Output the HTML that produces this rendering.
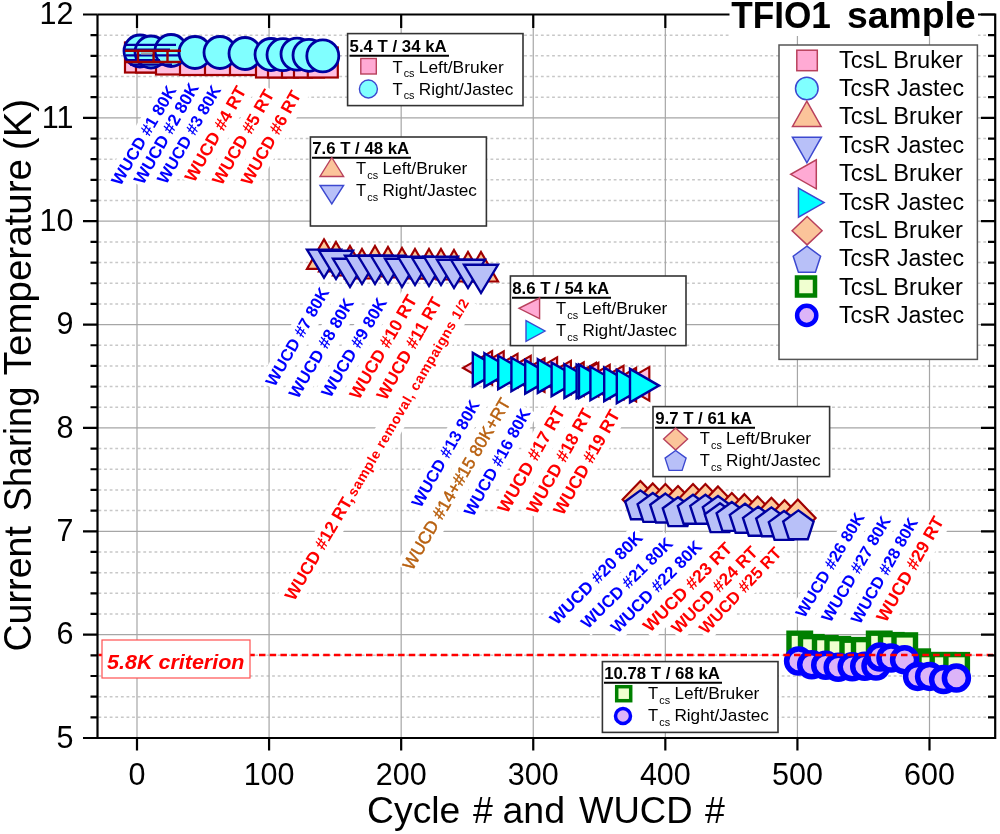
<!DOCTYPE html>
<html><head><meta charset="utf-8"><title>TFIO1 sample</title>
<style>html,body{margin:0;padding:0;background:#fff;overflow:hidden;} svg{display:block;}</style>
</head><body>
<svg width="1000" height="834" viewBox="0 0 1000 834"><g id="grid">
<line x1="98.5" y1="717.33" x2="994.2" y2="717.33" stroke="#c8c8c8" stroke-width="1.5" stroke-dasharray="2.8 2.8"/>
<line x1="98.5" y1="696.66" x2="994.2" y2="696.66" stroke="#c8c8c8" stroke-width="1.5" stroke-dasharray="2.8 2.8"/>
<line x1="98.5" y1="675.99" x2="994.2" y2="675.99" stroke="#c8c8c8" stroke-width="1.5" stroke-dasharray="2.8 2.8"/>
<line x1="98.5" y1="655.31" x2="994.2" y2="655.31" stroke="#c8c8c8" stroke-width="1.5" stroke-dasharray="2.8 2.8"/>
<line x1="98.5" y1="613.97" x2="994.2" y2="613.97" stroke="#c8c8c8" stroke-width="1.5" stroke-dasharray="2.8 2.8"/>
<line x1="98.5" y1="593.30" x2="994.2" y2="593.30" stroke="#c8c8c8" stroke-width="1.5" stroke-dasharray="2.8 2.8"/>
<line x1="98.5" y1="572.63" x2="994.2" y2="572.63" stroke="#c8c8c8" stroke-width="1.5" stroke-dasharray="2.8 2.8"/>
<line x1="98.5" y1="551.96" x2="994.2" y2="551.96" stroke="#c8c8c8" stroke-width="1.5" stroke-dasharray="2.8 2.8"/>
<line x1="98.5" y1="510.61" x2="994.2" y2="510.61" stroke="#c8c8c8" stroke-width="1.5" stroke-dasharray="2.8 2.8"/>
<line x1="98.5" y1="489.94" x2="994.2" y2="489.94" stroke="#c8c8c8" stroke-width="1.5" stroke-dasharray="2.8 2.8"/>
<line x1="98.5" y1="469.27" x2="994.2" y2="469.27" stroke="#c8c8c8" stroke-width="1.5" stroke-dasharray="2.8 2.8"/>
<line x1="98.5" y1="448.60" x2="994.2" y2="448.60" stroke="#c8c8c8" stroke-width="1.5" stroke-dasharray="2.8 2.8"/>
<line x1="98.5" y1="407.26" x2="994.2" y2="407.26" stroke="#c8c8c8" stroke-width="1.5" stroke-dasharray="2.8 2.8"/>
<line x1="98.5" y1="386.59" x2="994.2" y2="386.59" stroke="#c8c8c8" stroke-width="1.5" stroke-dasharray="2.8 2.8"/>
<line x1="98.5" y1="365.91" x2="994.2" y2="365.91" stroke="#c8c8c8" stroke-width="1.5" stroke-dasharray="2.8 2.8"/>
<line x1="98.5" y1="345.24" x2="994.2" y2="345.24" stroke="#c8c8c8" stroke-width="1.5" stroke-dasharray="2.8 2.8"/>
<line x1="98.5" y1="303.90" x2="994.2" y2="303.90" stroke="#c8c8c8" stroke-width="1.5" stroke-dasharray="2.8 2.8"/>
<line x1="98.5" y1="283.23" x2="994.2" y2="283.23" stroke="#c8c8c8" stroke-width="1.5" stroke-dasharray="2.8 2.8"/>
<line x1="98.5" y1="262.56" x2="994.2" y2="262.56" stroke="#c8c8c8" stroke-width="1.5" stroke-dasharray="2.8 2.8"/>
<line x1="98.5" y1="241.89" x2="994.2" y2="241.89" stroke="#c8c8c8" stroke-width="1.5" stroke-dasharray="2.8 2.8"/>
<line x1="98.5" y1="200.54" x2="994.2" y2="200.54" stroke="#c8c8c8" stroke-width="1.5" stroke-dasharray="2.8 2.8"/>
<line x1="98.5" y1="179.87" x2="994.2" y2="179.87" stroke="#c8c8c8" stroke-width="1.5" stroke-dasharray="2.8 2.8"/>
<line x1="98.5" y1="159.20" x2="994.2" y2="159.20" stroke="#c8c8c8" stroke-width="1.5" stroke-dasharray="2.8 2.8"/>
<line x1="98.5" y1="138.53" x2="994.2" y2="138.53" stroke="#c8c8c8" stroke-width="1.5" stroke-dasharray="2.8 2.8"/>
<line x1="98.5" y1="97.19" x2="994.2" y2="97.19" stroke="#c8c8c8" stroke-width="1.5" stroke-dasharray="2.8 2.8"/>
<line x1="98.5" y1="76.51" x2="994.2" y2="76.51" stroke="#c8c8c8" stroke-width="1.5" stroke-dasharray="2.8 2.8"/>
<line x1="98.5" y1="55.84" x2="994.2" y2="55.84" stroke="#c8c8c8" stroke-width="1.5" stroke-dasharray="2.8 2.8"/>
<line x1="98.5" y1="35.17" x2="994.2" y2="35.17" stroke="#c8c8c8" stroke-width="1.5" stroke-dasharray="2.8 2.8"/>
<line x1="97.5" y1="634.64" x2="995.2" y2="634.64" stroke="#a6a6a6" stroke-width="1.2"/>
<line x1="97.5" y1="531.29" x2="995.2" y2="531.29" stroke="#a6a6a6" stroke-width="1.2"/>
<line x1="97.5" y1="427.93" x2="995.2" y2="427.93" stroke="#a6a6a6" stroke-width="1.2"/>
<line x1="97.5" y1="324.57" x2="995.2" y2="324.57" stroke="#a6a6a6" stroke-width="1.2"/>
<line x1="97.5" y1="221.21" x2="995.2" y2="221.21" stroke="#a6a6a6" stroke-width="1.2"/>
<line x1="97.5" y1="117.86" x2="995.2" y2="117.86" stroke="#a6a6a6" stroke-width="1.2"/>
<line x1="137.00" y1="14.5" x2="137.00" y2="738.0" stroke="#a6a6a6" stroke-width="1.2"/>
<line x1="269.08" y1="14.5" x2="269.08" y2="738.0" stroke="#a6a6a6" stroke-width="1.2"/>
<line x1="401.17" y1="14.5" x2="401.17" y2="738.0" stroke="#a6a6a6" stroke-width="1.2"/>
<line x1="533.25" y1="14.5" x2="533.25" y2="738.0" stroke="#a6a6a6" stroke-width="1.2"/>
<line x1="665.33" y1="14.5" x2="665.33" y2="738.0" stroke="#a6a6a6" stroke-width="1.2"/>
<line x1="797.42" y1="14.5" x2="797.42" y2="738.0" stroke="#a6a6a6" stroke-width="1.2"/>
<line x1="929.50" y1="14.5" x2="929.50" y2="738.0" stroke="#a6a6a6" stroke-width="1.2"/>
</g>
<g id="labels">
<g transform="translate(293.1,591.5) rotate(-59.63085525201942)"><rect x="-10.3" y="-11.7" width="350.8" height="24.7" fill="#fff"/><text x="-8.3" y="6.1" font-family="'Liberation Sans', Arial, sans-serif" font-size="17.39" font-weight="bold" fill="#ff0000">WUCD #12 RT,</text><text x="112.5" y="6.1" font-family="'Liberation Sans', Arial, sans-serif" font-size="14" font-weight="bold" fill="#ff0000" textLength="226" lengthAdjust="spacing"> sample removal, campaigns 1/2</text></g>
<g transform="translate(411.0,561.0) rotate(-59.6)"><rect x="-10.2" y="-11.6" width="199.7" height="24.6" fill="#fff"/><text x="-8.2" y="6.1" font-family="'Liberation Sans', Arial, sans-serif" font-size="17.35" font-weight="normal" fill="#b8600f" stroke="#b8600f" stroke-width="0.45">WUCD #14+#15 80K+RT</text></g>
<g transform="translate(119.5,176.5) rotate(-59.71830386109913)"><rect x="-10.0" y="-11.3" width="115.5" height="24.0" fill="#fff"/><text x="-8.0" y="5.9" font-family="'Liberation Sans', Arial, sans-serif" font-size="16.87" font-weight="bold" fill="#0000ff">WUCD #1 80K</text></g>
<g transform="translate(142.0,175.5) rotate(-60.24083760177997)"><rect x="-10.1" y="-11.5" width="117.3" height="24.3" fill="#fff"/><text x="-8.1" y="6.0" font-family="'Liberation Sans', Arial, sans-serif" font-size="17.14" font-weight="bold" fill="#0000ff">WUCD #2 80K</text></g>
<g transform="translate(165.2,175.3) rotate(-59.86685251825079)"><rect x="-9.9" y="-11.2" width="114.5" height="23.7" fill="#fff"/><text x="-7.9" y="5.8" font-family="'Liberation Sans', Arial, sans-serif" font-size="16.71" font-weight="bold" fill="#0000ff">WUCD #3 80K</text></g>
<g transform="translate(193.0,173.0) rotate(-60.37730064129688)"><rect x="-10.3" y="-11.7" width="110.6" height="24.8" fill="#fff"/><text x="-8.3" y="6.1" font-family="'Liberation Sans', Arial, sans-serif" font-size="17.44" font-weight="bold" fill="#ff0000">WUCD #4 RT</text></g>
<g transform="translate(220.6,176.0) rotate(-60.07172392949572)"><rect x="-10.3" y="-11.7" width="110.5" height="24.8" fill="#fff"/><text x="-8.3" y="6.1" font-family="'Liberation Sans', Arial, sans-serif" font-size="17.43" font-weight="bold" fill="#ff0000">WUCD #5 RT</text></g>
<g transform="translate(249.2,176.4) rotate(-60.86033330030258)"><rect x="-10.2" y="-11.5" width="108.9" height="24.4" fill="#fff"/><text x="-8.2" y="6.0" font-family="'Liberation Sans', Arial, sans-serif" font-size="17.17" font-weight="bold" fill="#ff0000">WUCD #6 RT</text></g>
<g transform="translate(273.7,377.7) rotate(-60.15238560193508)"><rect x="-9.9" y="-11.2" width="114.3" height="23.7" fill="#fff"/><text x="-7.9" y="5.8" font-family="'Liberation Sans', Arial, sans-serif" font-size="16.68" font-weight="bold" fill="#0000ff">WUCD #7 80K</text></g>
<g transform="translate(297.0,389.5) rotate(-59.75615254831229)"><rect x="-10.0" y="-11.3" width="115.9" height="24.0" fill="#fff"/><text x="-8.0" y="5.9" font-family="'Liberation Sans', Arial, sans-serif" font-size="16.93" font-weight="bold" fill="#0000ff">WUCD #8 80K</text></g>
<g transform="translate(329.5,388.6) rotate(-59.42532601236079)"><rect x="-10.1" y="-11.4" width="116.1" height="24.1" fill="#fff"/><text x="-8.1" y="5.9" font-family="'Liberation Sans', Arial, sans-serif" font-size="16.96" font-weight="bold" fill="#0000ff">WUCD #9 80K</text></g>
<g transform="translate(357.8,390.3) rotate(-59.83540211448305)"><rect x="-10.3" y="-11.7" width="120.9" height="24.9" fill="#fff"/><text x="-8.3" y="6.1" font-family="'Liberation Sans', Arial, sans-serif" font-size="17.53" font-weight="bold" fill="#ff0000">WUCD #10 RT</text></g>
<g transform="translate(384.7,391.0) rotate(-60.47098656411123)"><rect x="-10.2" y="-11.6" width="119.5" height="24.6" fill="#fff"/><text x="-8.2" y="6.1" font-family="'Liberation Sans', Arial, sans-serif" font-size="17.32" font-weight="bold" fill="#ff0000">WUCD #11 RT</text></g>
<g transform="translate(419.5,498.5) rotate(-60.161716257479846)"><rect x="-10.0" y="-11.2" width="124.0" height="23.8" fill="#fff"/><text x="-8.0" y="5.9" font-family="'Liberation Sans', Arial, sans-serif" font-size="16.74" font-weight="bold" fill="#0000ff">WUCD #13 80K</text></g>
<g transform="translate(471.9,507.5) rotate(-61.09222715796032)"><rect x="-9.9" y="-11.2" width="123.6" height="23.7" fill="#fff"/><text x="-7.9" y="5.8" font-family="'Liberation Sans', Arial, sans-serif" font-size="16.68" font-weight="bold" fill="#0000ff">WUCD #16 80K</text></g>
<g transform="translate(506.0,503.8) rotate(-60.47232710977229)"><rect x="-10.4" y="-11.9" width="122.5" height="25.2" fill="#fff"/><text x="-8.4" y="6.2" font-family="'Liberation Sans', Arial, sans-serif" font-size="17.77" font-weight="bold" fill="#ff0000">WUCD #17 RT</text></g>
<g transform="translate(534.9,505.0) rotate(-60.91318917046842)"><rect x="-10.4" y="-11.8" width="121.3" height="25.0" fill="#fff"/><text x="-8.4" y="6.2" font-family="'Liberation Sans', Arial, sans-serif" font-size="17.6" font-weight="bold" fill="#ff0000">WUCD #18 RT</text></g>
<g transform="translate(561.8,505.9) rotate(-60.63923406081225)"><rect x="-10.4" y="-11.8" width="121.2" height="25.0" fill="#fff"/><text x="-8.4" y="6.2" font-family="'Liberation Sans', Arial, sans-serif" font-size="17.58" font-weight="bold" fill="#ff0000">WUCD #19 RT</text></g>
<g transform="translate(558.3,615.7) rotate(-45.0)"><rect x="-10.2" y="-11.5" width="127.4" height="24.4" fill="#fff"/><text x="-8.2" y="6.0" font-family="'Liberation Sans', Arial, sans-serif" font-size="17.21" font-weight="bold" fill="#0000ff">WUCD #20 80K</text></g>
<g transform="translate(589.3,619.6) rotate(-44.47159540734653)"><rect x="-10.0" y="-11.3" width="124.9" height="24.0" fill="#fff"/><text x="-8.0" y="5.9" font-family="'Liberation Sans', Arial, sans-serif" font-size="16.87" font-weight="bold" fill="#0000ff">WUCD #21 80K</text></g>
<g transform="translate(619.2,624.2) rotate(-45.412732595353226)"><rect x="-10.1" y="-11.4" width="125.6" height="24.1" fill="#fff"/><text x="-8.1" y="5.9" font-family="'Liberation Sans', Arial, sans-serif" font-size="16.97" font-weight="bold" fill="#0000ff">WUCD #22 80K</text></g>
<g transform="translate(651.8,622.8) rotate(-45.155272735091906)"><rect x="-10.4" y="-11.9" width="122.1" height="25.1" fill="#fff"/><text x="-8.4" y="6.2" font-family="'Liberation Sans', Arial, sans-serif" font-size="17.71" font-weight="bold" fill="#ff0000">WUCD #23 RT</text></g>
<g transform="translate(679.9,624.8) rotate(-45.43980544036221)"><rect x="-10.2" y="-11.5" width="118.7" height="24.4" fill="#fff"/><text x="-8.2" y="6.0" font-family="'Liberation Sans', Arial, sans-serif" font-size="17.2" font-weight="bold" fill="#ff0000">WUCD #24 RT</text></g>
<g transform="translate(707.4,625.3) rotate(-46.81047067895704)"><rect x="-9.9" y="-11.2" width="115.4" height="23.7" fill="#fff"/><text x="-7.9" y="5.8" font-family="'Liberation Sans', Arial, sans-serif" font-size="16.71" font-weight="bold" fill="#ff0000">WUCD #25 RT</text></g>
<g transform="translate(803.6,609.2) rotate(-59.33543541952014)"><rect x="-9.8" y="-11.1" width="122.4" height="23.5" fill="#fff"/><text x="-7.8" y="5.8" font-family="'Liberation Sans', Arial, sans-serif" font-size="16.52" font-weight="bold" fill="#0000ff">WUCD #26 80K</text></g>
<g transform="translate(829.6,613.6) rotate(-59.47981483436064)"><rect x="-9.9" y="-11.2" width="123.8" height="23.7" fill="#fff"/><text x="-7.9" y="5.8" font-family="'Liberation Sans', Arial, sans-serif" font-size="16.71" font-weight="bold" fill="#0000ff">WUCD #27 80K</text></g>
<g transform="translate(858.8,615.2) rotate(-60.41704699406128)"><rect x="-9.9" y="-11.1" width="122.7" height="23.5" fill="#fff"/><text x="-7.9" y="5.8" font-family="'Liberation Sans', Arial, sans-serif" font-size="16.56" font-weight="bold" fill="#0000ff">WUCD #28 80K</text></g>
<g transform="translate(884.8,612.8) rotate(-60.282428414770855)"><rect x="-10.4" y="-11.8" width="121.8" height="25.1" fill="#fff"/><text x="-8.4" y="6.2" font-family="'Liberation Sans', Arial, sans-serif" font-size="17.67" font-weight="bold" fill="#ff0000">WUCD #29 RT</text></g>
</g>
<g id="data">
<rect x="125.0" y="42.5" width="30.0" height="30.0" fill="#ffbfe0" stroke="#a00000" stroke-width="2.2"/>
<rect x="136.0" y="42.5" width="30.0" height="30.0" fill="#ffbfe0" stroke="#a00000" stroke-width="2.2"/>
<rect x="156.0" y="44.5" width="30.0" height="30.0" fill="#ffbfe0" stroke="#a00000" stroke-width="2.2"/>
<rect x="180.0" y="45.0" width="30.0" height="30.0" fill="#ffbfe0" stroke="#a00000" stroke-width="2.2"/>
<rect x="205.0" y="45.0" width="30.0" height="30.0" fill="#ffbfe0" stroke="#a00000" stroke-width="2.2"/>
<rect x="230.0" y="45.0" width="30.0" height="30.0" fill="#ffbfe0" stroke="#a00000" stroke-width="2.2"/>
<rect x="256.0" y="47.5" width="30.0" height="30.0" fill="#ffbfe0" stroke="#a00000" stroke-width="2.2"/>
<rect x="268.0" y="47.5" width="30.0" height="30.0" fill="#ffbfe0" stroke="#a00000" stroke-width="2.2"/>
<rect x="282.0" y="47.5" width="30.0" height="30.0" fill="#ffbfe0" stroke="#a00000" stroke-width="2.2"/>
<rect x="294.0" y="47.5" width="30.0" height="30.0" fill="#ffbfe0" stroke="#a00000" stroke-width="2.2"/>
<rect x="307.8" y="47.5" width="30.0" height="30.0" fill="#ffbfe0" stroke="#a00000" stroke-width="2.2"/>
<circle cx="140.0" cy="51.0" r="16.0" fill="#80ffff" stroke="#0000a0" stroke-width="2.8"/>
<circle cx="151.0" cy="52.0" r="16.0" fill="#80ffff" stroke="#0000a0" stroke-width="2.8"/>
<circle cx="171.0" cy="50.5" r="16.0" fill="#80ffff" stroke="#0000a0" stroke-width="2.8"/>
<circle cx="195.0" cy="52.5" r="16.0" fill="#80ffff" stroke="#0000a0" stroke-width="2.8"/>
<circle cx="220.0" cy="52.5" r="16.0" fill="#80ffff" stroke="#0000a0" stroke-width="2.8"/>
<circle cx="245.0" cy="53.5" r="16.0" fill="#80ffff" stroke="#0000a0" stroke-width="2.8"/>
<circle cx="271.0" cy="54.5" r="16.0" fill="#80ffff" stroke="#0000a0" stroke-width="2.8"/>
<circle cx="283.0" cy="54.7" r="16.0" fill="#80ffff" stroke="#0000a0" stroke-width="2.8"/>
<circle cx="297.0" cy="54.1" r="16.0" fill="#80ffff" stroke="#0000a0" stroke-width="2.8"/>
<circle cx="309.0" cy="55.3" r="16.0" fill="#80ffff" stroke="#0000a0" stroke-width="2.8"/>
<circle cx="322.8" cy="55.9" r="16.0" fill="#80ffff" stroke="#0000a0" stroke-width="2.8"/>
<path d="M126,44.9 H176 M125,49.6 H170 M126,55.4 H178 M127,60.2 H160 M130,64.6 H172" stroke="#0000a0" stroke-width="2.2" fill="none"/>
<path d="M125,50.8 H181 M125,62 H181 M138,50.8 V62 M153.6,50.8 V62 M167.5,50.8 V62" stroke="#a00000" stroke-width="2.4" fill="none"/>
<rect x="141" y="52.4" width="11" height="2.2" fill="#a0a0a0"/>
<polygon points="324.0,239.4 341.0,268.9 307.0,268.9" fill="#ffc898" stroke="#a00000" stroke-width="2.2" stroke-linejoin="miter"/>
<polygon points="336.0,242.0 353.0,271.5 319.0,271.5" fill="#ffc898" stroke="#a00000" stroke-width="2.2" stroke-linejoin="miter"/>
<polygon points="350.0,246.0 367.0,275.5 333.0,275.5" fill="#ffc898" stroke="#a00000" stroke-width="2.2" stroke-linejoin="miter"/>
<polygon points="362.0,249.0 379.0,278.5 345.0,278.5" fill="#ffc898" stroke="#a00000" stroke-width="2.2" stroke-linejoin="miter"/>
<polygon points="375.0,246.0 392.0,275.5 358.0,275.5" fill="#ffc898" stroke="#a00000" stroke-width="2.2" stroke-linejoin="miter"/>
<polygon points="388.0,247.0 405.0,276.5 371.0,276.5" fill="#ffc898" stroke="#a00000" stroke-width="2.2" stroke-linejoin="miter"/>
<polygon points="402.0,248.0 419.0,277.5 385.0,277.5" fill="#ffc898" stroke="#a00000" stroke-width="2.2" stroke-linejoin="miter"/>
<polygon points="415.0,249.0 432.0,278.5 398.0,278.5" fill="#ffc898" stroke="#a00000" stroke-width="2.2" stroke-linejoin="miter"/>
<polygon points="429.0,249.0 446.0,278.5 412.0,278.5" fill="#ffc898" stroke="#a00000" stroke-width="2.2" stroke-linejoin="miter"/>
<polygon points="441.0,249.0 458.0,278.5 424.0,278.5" fill="#ffc898" stroke="#a00000" stroke-width="2.2" stroke-linejoin="miter"/>
<polygon points="454.0,250.0 471.0,279.5 437.0,279.5" fill="#ffc898" stroke="#a00000" stroke-width="2.2" stroke-linejoin="miter"/>
<polygon points="468.0,252.0 485.0,281.5 451.0,281.5" fill="#ffc898" stroke="#a00000" stroke-width="2.2" stroke-linejoin="miter"/>
<polygon points="481.0,252.0 498.0,281.5 464.0,281.5" fill="#ffc898" stroke="#a00000" stroke-width="2.2" stroke-linejoin="miter"/>
<polygon points="307.0,249.6 341.0,249.6 324.0,277.8" fill="#b8c0f8" stroke="#0000a0" stroke-width="2.4" stroke-linejoin="miter"/>
<polygon points="319.0,250.8 353.0,250.8 336.0,279.0" fill="#b8c0f8" stroke="#0000a0" stroke-width="2.4" stroke-linejoin="miter"/>
<polygon points="333.0,258.8 367.0,258.8 350.0,287.0" fill="#b8c0f8" stroke="#0000a0" stroke-width="2.4" stroke-linejoin="miter"/>
<polygon points="345.0,255.8 379.0,255.8 362.0,284.0" fill="#b8c0f8" stroke="#0000a0" stroke-width="2.4" stroke-linejoin="miter"/>
<polygon points="358.0,255.8 392.0,255.8 375.0,284.0" fill="#b8c0f8" stroke="#0000a0" stroke-width="2.4" stroke-linejoin="miter"/>
<polygon points="371.0,255.8 405.0,255.8 388.0,284.0" fill="#b8c0f8" stroke="#0000a0" stroke-width="2.4" stroke-linejoin="miter"/>
<polygon points="385.0,258.8 419.0,258.8 402.0,287.0" fill="#b8c0f8" stroke="#0000a0" stroke-width="2.4" stroke-linejoin="miter"/>
<polygon points="398.0,256.8 432.0,256.8 415.0,285.0" fill="#b8c0f8" stroke="#0000a0" stroke-width="2.4" stroke-linejoin="miter"/>
<polygon points="412.0,257.8 446.0,257.8 429.0,286.0" fill="#b8c0f8" stroke="#0000a0" stroke-width="2.4" stroke-linejoin="miter"/>
<polygon points="424.0,256.8 458.0,256.8 441.0,285.0" fill="#b8c0f8" stroke="#0000a0" stroke-width="2.4" stroke-linejoin="miter"/>
<polygon points="437.0,259.8 471.0,259.8 454.0,288.0" fill="#b8c0f8" stroke="#0000a0" stroke-width="2.4" stroke-linejoin="miter"/>
<polygon points="451.0,259.8 485.0,259.8 468.0,288.0" fill="#b8c0f8" stroke="#0000a0" stroke-width="2.4" stroke-linejoin="miter"/>
<polygon points="464.0,264.8 498.0,264.8 481.0,293.0" fill="#b8c0f8" stroke="#0000a0" stroke-width="2.4" stroke-linejoin="miter"/>
<polygon points="492.1,351.1 492.1,384.6 463.1,367.9" fill="#ffbfe0" stroke="#a00000" stroke-width="2.2" stroke-linejoin="miter"/>
<polygon points="503.7,351.4 503.7,384.9 474.7,368.2" fill="#ffbfe0" stroke="#a00000" stroke-width="2.2" stroke-linejoin="miter"/>
<polygon points="517.5,353.9 517.5,387.4 488.5,370.7" fill="#ffbfe0" stroke="#a00000" stroke-width="2.2" stroke-linejoin="miter"/>
<polygon points="530.7,355.9 530.7,389.4 501.7,372.7" fill="#ffbfe0" stroke="#a00000" stroke-width="2.2" stroke-linejoin="miter"/>
<polygon points="544.5,358.3 544.5,391.8 515.5,375.1" fill="#ffbfe0" stroke="#a00000" stroke-width="2.2" stroke-linejoin="miter"/>
<polygon points="557.1,357.4 557.1,390.9 528.1,374.2" fill="#ffbfe0" stroke="#a00000" stroke-width="2.2" stroke-linejoin="miter"/>
<polygon points="570.9,360.8 570.9,394.2 541.9,377.5" fill="#ffbfe0" stroke="#a00000" stroke-width="2.2" stroke-linejoin="miter"/>
<polygon points="583.7,362.4 583.7,395.9 554.7,379.2" fill="#ffbfe0" stroke="#a00000" stroke-width="2.2" stroke-linejoin="miter"/>
<polygon points="595.9,362.8 595.9,396.3 566.9,379.6" fill="#ffbfe0" stroke="#a00000" stroke-width="2.2" stroke-linejoin="miter"/>
<polygon points="598.3,362.8 598.3,396.3 569.3,379.6" fill="#ffbfe0" stroke="#a00000" stroke-width="2.2" stroke-linejoin="miter"/>
<polygon points="609.7,364.9 609.7,398.4 580.7,381.7" fill="#ffbfe0" stroke="#a00000" stroke-width="2.2" stroke-linejoin="miter"/>
<polygon points="623.5,365.8 623.5,399.3 594.5,382.6" fill="#ffbfe0" stroke="#a00000" stroke-width="2.2" stroke-linejoin="miter"/>
<polygon points="636.1,367.9 636.1,401.4 607.1,384.7" fill="#ffbfe0" stroke="#a00000" stroke-width="2.2" stroke-linejoin="miter"/>
<polygon points="649.3,367.1 649.3,400.6 620.3,383.8" fill="#ffbfe0" stroke="#a00000" stroke-width="2.2" stroke-linejoin="miter"/>
<polygon points="472.8,352.9 501.8,369.7 472.8,386.4" fill="#00ffff" stroke="#0000a0" stroke-width="2.4" stroke-linejoin="miter"/>
<polygon points="484.4,353.2 513.4,370.0 484.4,386.8" fill="#00ffff" stroke="#0000a0" stroke-width="2.4" stroke-linejoin="miter"/>
<polygon points="498.2,355.8 527.2,372.5 498.2,389.2" fill="#00ffff" stroke="#0000a0" stroke-width="2.4" stroke-linejoin="miter"/>
<polygon points="511.4,357.8 540.4,374.5 511.4,391.2" fill="#00ffff" stroke="#0000a0" stroke-width="2.4" stroke-linejoin="miter"/>
<polygon points="525.2,360.1 554.2,376.9 525.2,393.6" fill="#00ffff" stroke="#0000a0" stroke-width="2.4" stroke-linejoin="miter"/>
<polygon points="537.8,359.2 566.8,376.0 537.8,392.8" fill="#00ffff" stroke="#0000a0" stroke-width="2.4" stroke-linejoin="miter"/>
<polygon points="551.6,362.6 580.6,379.3 551.6,396.1" fill="#00ffff" stroke="#0000a0" stroke-width="2.4" stroke-linejoin="miter"/>
<polygon points="564.4,364.2 593.4,381.0 564.4,397.8" fill="#00ffff" stroke="#0000a0" stroke-width="2.4" stroke-linejoin="miter"/>
<polygon points="576.6,364.6 605.6,381.4 576.6,398.1" fill="#00ffff" stroke="#0000a0" stroke-width="2.4" stroke-linejoin="miter"/>
<polygon points="579.0,364.6 608.0,381.4 579.0,398.1" fill="#00ffff" stroke="#0000a0" stroke-width="2.4" stroke-linejoin="miter"/>
<polygon points="590.4,366.8 619.4,383.5 590.4,400.2" fill="#00ffff" stroke="#0000a0" stroke-width="2.4" stroke-linejoin="miter"/>
<polygon points="604.2,367.6 633.2,384.4 604.2,401.1" fill="#00ffff" stroke="#0000a0" stroke-width="2.4" stroke-linejoin="miter"/>
<polygon points="616.8,369.8 645.8,386.5 616.8,403.2" fill="#00ffff" stroke="#0000a0" stroke-width="2.4" stroke-linejoin="miter"/>
<polygon points="630.0,368.9 659.0,385.6 630.0,402.4" fill="#00ffff" stroke="#0000a0" stroke-width="2.4" stroke-linejoin="miter"/>
<polygon points="640.4,481.0 658.2,499.5 640.4,518.0 622.6,499.5" fill="#ffc898" stroke="#a00000" stroke-width="2.2" stroke-linejoin="miter"/>
<polygon points="652.8,483.4 670.6,501.9 652.8,520.4 635.0,501.9" fill="#ffc898" stroke="#a00000" stroke-width="2.2" stroke-linejoin="miter"/>
<polygon points="665.4,484.0 683.2,502.5 665.4,521.0 647.6,502.5" fill="#ffc898" stroke="#a00000" stroke-width="2.2" stroke-linejoin="miter"/>
<polygon points="678.0,486.0 695.8,504.5 678.0,523.0 660.2,504.5" fill="#ffc898" stroke="#a00000" stroke-width="2.2" stroke-linejoin="miter"/>
<polygon points="693.0,484.0 710.8,502.5 693.0,521.0 675.2,502.5" fill="#ffc898" stroke="#a00000" stroke-width="2.2" stroke-linejoin="miter"/>
<polygon points="705.4,484.0 723.2,502.5 705.4,521.0 687.6,502.5" fill="#ffc898" stroke="#a00000" stroke-width="2.2" stroke-linejoin="miter"/>
<polygon points="718.0,486.4 735.8,504.9 718.0,523.4 700.2,504.9" fill="#ffc898" stroke="#a00000" stroke-width="2.2" stroke-linejoin="miter"/>
<polygon points="731.8,493.0 749.6,511.5 731.8,530.0 714.0,511.5" fill="#ffc898" stroke="#a00000" stroke-width="2.2" stroke-linejoin="miter"/>
<polygon points="744.4,494.2 762.2,512.7 744.4,531.2 726.6,512.7" fill="#ffc898" stroke="#a00000" stroke-width="2.2" stroke-linejoin="miter"/>
<polygon points="757.6,496.6 775.4,515.1 757.6,533.6 739.8,515.1" fill="#ffc898" stroke="#a00000" stroke-width="2.2" stroke-linejoin="miter"/>
<polygon points="771.4,497.8 789.2,516.3 771.4,534.8 753.6,516.3" fill="#ffc898" stroke="#a00000" stroke-width="2.2" stroke-linejoin="miter"/>
<polygon points="784.6,500.2 802.4,518.7 784.6,537.2 766.8,518.7" fill="#ffc898" stroke="#a00000" stroke-width="2.2" stroke-linejoin="miter"/>
<polygon points="797.8,499.6 815.6,518.1 797.8,536.6 780.0,518.1" fill="#ffc898" stroke="#a00000" stroke-width="2.2" stroke-linejoin="miter"/>
<polygon points="640.4,490.4 655.6,501.5 649.8,519.3 631.0,519.3 625.2,501.5" fill="#b8c0f8" stroke="#0000a0" stroke-width="2.4" stroke-linejoin="miter"/>
<polygon points="652.8,493.0 668.0,504.1 662.2,521.9 643.4,521.9 637.6,504.1" fill="#b8c0f8" stroke="#0000a0" stroke-width="2.4" stroke-linejoin="miter"/>
<polygon points="665.4,493.6 680.6,504.7 674.8,522.5 656.0,522.5 650.2,504.7" fill="#b8c0f8" stroke="#0000a0" stroke-width="2.4" stroke-linejoin="miter"/>
<polygon points="678.0,497.2 693.2,508.3 687.4,526.1 668.6,526.1 662.8,508.3" fill="#b8c0f8" stroke="#0000a0" stroke-width="2.4" stroke-linejoin="miter"/>
<polygon points="693.0,494.8 708.2,505.9 702.4,523.7 683.6,523.7 677.8,505.9" fill="#b8c0f8" stroke="#0000a0" stroke-width="2.4" stroke-linejoin="miter"/>
<polygon points="705.4,494.8 720.6,505.9 714.8,523.7 696.0,523.7 690.2,505.9" fill="#b8c0f8" stroke="#0000a0" stroke-width="2.4" stroke-linejoin="miter"/>
<polygon points="718.0,496.0 733.2,507.1 727.4,524.9 708.6,524.9 702.8,507.1" fill="#b8c0f8" stroke="#0000a0" stroke-width="2.4" stroke-linejoin="miter"/>
<polygon points="720.0,503.2 735.2,514.3 729.4,532.1 710.6,532.1 704.8,514.3" fill="#b8c0f8" stroke="#0000a0" stroke-width="2.4" stroke-linejoin="miter"/>
<polygon points="731.8,502.0 747.0,513.1 741.2,530.9 722.4,530.9 716.6,513.1" fill="#b8c0f8" stroke="#0000a0" stroke-width="2.4" stroke-linejoin="miter"/>
<polygon points="745.0,503.8 760.2,514.9 754.4,532.7 735.6,532.7 729.8,514.9" fill="#b8c0f8" stroke="#0000a0" stroke-width="2.4" stroke-linejoin="miter"/>
<polygon points="758.2,506.8 773.4,517.9 767.6,535.7 748.8,535.7 743.0,517.9" fill="#b8c0f8" stroke="#0000a0" stroke-width="2.4" stroke-linejoin="miter"/>
<polygon points="771.4,507.4 786.6,518.5 780.8,536.3 762.0,536.3 756.2,518.5" fill="#b8c0f8" stroke="#0000a0" stroke-width="2.4" stroke-linejoin="miter"/>
<polygon points="784.0,511.0 799.2,522.1 793.4,539.9 774.6,539.9 768.8,522.1" fill="#b8c0f8" stroke="#0000a0" stroke-width="2.4" stroke-linejoin="miter"/>
<polygon points="798.4,510.4 813.6,521.5 807.8,539.3 789.0,539.3 783.2,521.5" fill="#b8c0f8" stroke="#0000a0" stroke-width="2.4" stroke-linejoin="miter"/>
<rect x="789.0" y="633.2" width="21.5" height="21.5" fill="#f0ffd0" stroke="#008000" stroke-width="5.4"/>
<rect x="800.5" y="636.6" width="21.5" height="21.5" fill="#f0ffd0" stroke="#008000" stroke-width="5.4"/>
<rect x="814.5" y="637.6" width="21.5" height="21.5" fill="#f0ffd0" stroke="#008000" stroke-width="5.4"/>
<rect x="827.0" y="638.6" width="21.5" height="21.5" fill="#f0ffd0" stroke="#008000" stroke-width="5.4"/>
<rect x="842.0" y="640.2" width="21.5" height="21.5" fill="#f0ffd0" stroke="#008000" stroke-width="5.4"/>
<rect x="853.5" y="639.6" width="21.5" height="21.5" fill="#f0ffd0" stroke="#008000" stroke-width="5.4"/>
<rect x="868.5" y="633.2" width="21.5" height="21.5" fill="#f0ffd0" stroke="#008000" stroke-width="5.4"/>
<rect x="880.5" y="634.6" width="21.5" height="21.5" fill="#f0ffd0" stroke="#008000" stroke-width="5.4"/>
<rect x="894.0" y="634.9" width="21.5" height="21.5" fill="#f0ffd0" stroke="#008000" stroke-width="5.4"/>
<rect x="906.9" y="651.0" width="21.5" height="21.5" fill="#f0ffd0" stroke="#008000" stroke-width="5.4"/>
<rect x="919.0" y="654.6" width="21.5" height="21.5" fill="#f0ffd0" stroke="#008000" stroke-width="5.4"/>
<rect x="932.2" y="654.6" width="21.5" height="21.5" fill="#f0ffd0" stroke="#008000" stroke-width="5.4"/>
<rect x="945.9" y="654.6" width="21.5" height="21.5" fill="#f0ffd0" stroke="#008000" stroke-width="5.4"/>
<circle cx="798.6" cy="661.0" r="12.0" fill="#dcb4f8" stroke="#0000ff" stroke-width="5.5"/>
<circle cx="811.7" cy="664.7" r="12.0" fill="#dcb4f8" stroke="#0000ff" stroke-width="5.5"/>
<circle cx="825.7" cy="665.2" r="12.0" fill="#dcb4f8" stroke="#0000ff" stroke-width="5.5"/>
<circle cx="838.2" cy="667.2" r="12.0" fill="#dcb4f8" stroke="#0000ff" stroke-width="5.5"/>
<circle cx="852.2" cy="666.7" r="12.0" fill="#dcb4f8" stroke="#0000ff" stroke-width="5.5"/>
<circle cx="864.7" cy="666.2" r="12.0" fill="#dcb4f8" stroke="#0000ff" stroke-width="5.5"/>
<circle cx="876.0" cy="666.0" r="12.0" fill="#dcb4f8" stroke="#0000ff" stroke-width="5.5"/>
<circle cx="880.0" cy="657.0" r="12.0" fill="#dcb4f8" stroke="#0000ff" stroke-width="5.5"/>
<circle cx="891.0" cy="658.0" r="12.0" fill="#dcb4f8" stroke="#0000ff" stroke-width="5.5"/>
<circle cx="904.6" cy="659.8" r="12.0" fill="#dcb4f8" stroke="#0000ff" stroke-width="5.5"/>
<circle cx="917.6" cy="676.4" r="12.0" fill="#dcb4f8" stroke="#0000ff" stroke-width="5.5"/>
<circle cx="929.6" cy="676.4" r="12.0" fill="#dcb4f8" stroke="#0000ff" stroke-width="5.5"/>
<circle cx="943.6" cy="679.6" r="12.0" fill="#dcb4f8" stroke="#0000ff" stroke-width="5.5"/>
<circle cx="956.4" cy="678.0" r="12.0" fill="#dcb4f8" stroke="#0000ff" stroke-width="5.5"/>
</g>
<g id="glegends">
<rect x="347.6" y="33.6" width="175.4" height="72.0" fill="#fff" stroke="#333" stroke-width="1.6"/>
<text x="349.6" y="52.4" font-family="'Liberation Sans', Arial, sans-serif" font-size="16.8" font-weight="bold" font-style="normal" fill="#000" text-anchor="start">5.4 T / 34 kA</text>
<line x1="349.5" y1="55.8" x2="449" y2="55.8" stroke="#000" stroke-width="2"/>
<rect x="360.8" y="58.5" width="15.5" height="15.5" fill="#ffaad4" stroke="#b8405c" stroke-width="1.4"/>
<circle cx="368.4" cy="89.0" r="9.0" fill="#80ffff" stroke="#3c48d0" stroke-width="1.4"/>
<text x="392.4" y="72.5" font-family="'Liberation Sans', Arial, sans-serif" font-size="16.6" font-weight="normal" font-style="normal" fill="#000" text-anchor="start">T</text>
<text x="403.7" y="77.2" font-family="'Liberation Sans', Arial, sans-serif" font-size="10.8" font-weight="normal" font-style="normal" fill="#000" text-anchor="start">cs</text>
<text x="418.8" y="72.5" font-family="'Liberation Sans', Arial, sans-serif" font-size="16.6" font-weight="normal" font-style="normal" fill="#000" text-anchor="start" textLength="85" lengthAdjust="spacingAndGlyphs">Left/Bruker</text>
<text x="392.4" y="94.6" font-family="'Liberation Sans', Arial, sans-serif" font-size="16.6" font-weight="normal" font-style="normal" fill="#000" text-anchor="start">T</text>
<text x="403.7" y="99.3" font-family="'Liberation Sans', Arial, sans-serif" font-size="10.8" font-weight="normal" font-style="normal" fill="#000" text-anchor="start">cs</text>
<text x="418.8" y="94.6" font-family="'Liberation Sans', Arial, sans-serif" font-size="16.6" font-weight="normal" font-style="normal" fill="#000" text-anchor="start" textLength="94.5" lengthAdjust="spacingAndGlyphs">Right/Jastec</text>
<rect x="310.4" y="137" width="176.0" height="89.0" fill="#fff" stroke="#333" stroke-width="1.6"/>
<text x="312.2" y="153.6" font-family="'Liberation Sans', Arial, sans-serif" font-size="16.8" font-weight="bold" font-style="normal" fill="#000" text-anchor="start">7.6 T / 48 kA</text>
<line x1="312" y1="157.8" x2="411" y2="157.8" stroke="#000" stroke-width="2"/>
<polygon points="331.8,157.5 343.6,176.5 320.0,176.5" fill="#fbc49a" stroke="#b8405c" stroke-width="1.4" stroke-linejoin="miter"/>
<polygon points="320.0,185.5 343.6,185.5 331.8,204.0" fill="#b8c0f8" stroke="#3c48d0" stroke-width="1.4" stroke-linejoin="miter"/>
<text x="356.0" y="173.9" font-family="'Liberation Sans', Arial, sans-serif" font-size="16.6" font-weight="normal" font-style="normal" fill="#000" text-anchor="start">T</text>
<text x="367.3" y="178.6" font-family="'Liberation Sans', Arial, sans-serif" font-size="10.8" font-weight="normal" font-style="normal" fill="#000" text-anchor="start">cs</text>
<text x="382.4" y="173.9" font-family="'Liberation Sans', Arial, sans-serif" font-size="16.6" font-weight="normal" font-style="normal" fill="#000" text-anchor="start" textLength="85" lengthAdjust="spacingAndGlyphs">Left/Bruker</text>
<text x="356.0" y="196.3" font-family="'Liberation Sans', Arial, sans-serif" font-size="16.6" font-weight="normal" font-style="normal" fill="#000" text-anchor="start">T</text>
<text x="367.3" y="201.0" font-family="'Liberation Sans', Arial, sans-serif" font-size="10.8" font-weight="normal" font-style="normal" fill="#000" text-anchor="start">cs</text>
<text x="382.4" y="196.3" font-family="'Liberation Sans', Arial, sans-serif" font-size="16.6" font-weight="normal" font-style="normal" fill="#000" text-anchor="start" textLength="94.5" lengthAdjust="spacingAndGlyphs">Right/Jastec</text>
<rect x="510.4" y="276" width="175.6" height="69.6" fill="#fff" stroke="#333" stroke-width="1.6"/>
<text x="512.2" y="294" font-family="'Liberation Sans', Arial, sans-serif" font-size="16.8" font-weight="bold" font-style="normal" fill="#000" text-anchor="start">8.6 T / 54 kA</text>
<line x1="512" y1="297.8" x2="611" y2="297.8" stroke="#000" stroke-width="2"/>
<polygon points="539.6,298.0 539.6,318.6 519.0,308.3" fill="#ffaad4" stroke="#b8405c" stroke-width="1.4" stroke-linejoin="miter"/>
<polygon points="526.0,320.6 545.0,331.0 526.0,341.4" fill="#00ffff" stroke="#3c48d0" stroke-width="1.4" stroke-linejoin="miter"/>
<text x="556.0" y="313.9" font-family="'Liberation Sans', Arial, sans-serif" font-size="16.6" font-weight="normal" font-style="normal" fill="#000" text-anchor="start">T</text>
<text x="567.3" y="318.6" font-family="'Liberation Sans', Arial, sans-serif" font-size="10.8" font-weight="normal" font-style="normal" fill="#000" text-anchor="start">cs</text>
<text x="582.4" y="313.9" font-family="'Liberation Sans', Arial, sans-serif" font-size="16.6" font-weight="normal" font-style="normal" fill="#000" text-anchor="start" textLength="85" lengthAdjust="spacingAndGlyphs">Left/Bruker</text>
<text x="556.0" y="336.3" font-family="'Liberation Sans', Arial, sans-serif" font-size="16.6" font-weight="normal" font-style="normal" fill="#000" text-anchor="start">T</text>
<text x="567.3" y="341.0" font-family="'Liberation Sans', Arial, sans-serif" font-size="10.8" font-weight="normal" font-style="normal" fill="#000" text-anchor="start">cs</text>
<text x="582.4" y="336.3" font-family="'Liberation Sans', Arial, sans-serif" font-size="16.6" font-weight="normal" font-style="normal" fill="#000" text-anchor="start" textLength="94.5" lengthAdjust="spacingAndGlyphs">Right/Jastec</text>
<rect x="653" y="406.6" width="176.6" height="70.0" fill="#fff" stroke="#333" stroke-width="1.6"/>
<text x="655.2" y="424" font-family="'Liberation Sans', Arial, sans-serif" font-size="16.8" font-weight="bold" font-style="normal" fill="#000" text-anchor="start">9.7 T / 61 kA</text>
<line x1="655" y1="427.8" x2="755" y2="427.8" stroke="#000" stroke-width="2"/>
<polygon points="675.6,428.0 687.6,439.0 675.6,450.0 663.6,439.0" fill="#fbc49a" stroke="#b8405c" stroke-width="1.4" stroke-linejoin="miter"/>
<polygon points="675.6,450.5 686.1,458.1 682.1,470.4 669.1,470.4 665.1,458.1" fill="#b8c0f8" stroke="#3c48d0" stroke-width="1.4" stroke-linejoin="miter"/>
<text x="699.7" y="443.9" font-family="'Liberation Sans', Arial, sans-serif" font-size="16.6" font-weight="normal" font-style="normal" fill="#000" text-anchor="start">T</text>
<text x="711.0" y="448.6" font-family="'Liberation Sans', Arial, sans-serif" font-size="10.8" font-weight="normal" font-style="normal" fill="#000" text-anchor="start">cs</text>
<text x="726.1" y="443.9" font-family="'Liberation Sans', Arial, sans-serif" font-size="16.6" font-weight="normal" font-style="normal" fill="#000" text-anchor="start" textLength="85" lengthAdjust="spacingAndGlyphs">Left/Bruker</text>
<text x="699.7" y="466.3" font-family="'Liberation Sans', Arial, sans-serif" font-size="16.6" font-weight="normal" font-style="normal" fill="#000" text-anchor="start">T</text>
<text x="711.0" y="471.0" font-family="'Liberation Sans', Arial, sans-serif" font-size="10.8" font-weight="normal" font-style="normal" fill="#000" text-anchor="start">cs</text>
<text x="726.1" y="466.3" font-family="'Liberation Sans', Arial, sans-serif" font-size="16.6" font-weight="normal" font-style="normal" fill="#000" text-anchor="start" textLength="94.5" lengthAdjust="spacingAndGlyphs">Right/Jastec</text>
<rect x="602.4" y="661.6" width="175.6" height="70.8" fill="#fff" stroke="#333" stroke-width="1.6"/>
<text x="604.2" y="679" font-family="'Liberation Sans', Arial, sans-serif" font-size="16.8" font-weight="bold" font-style="normal" fill="#000" text-anchor="start">10.78 T / 68 kA</text>
<line x1="604" y1="682.8" x2="722" y2="682.8" stroke="#000" stroke-width="2"/>
<rect x="616.7" y="686.7" width="14.0" height="14.0" fill="#f0ffd0" stroke="#008000" stroke-width="3.5"/>
<circle cx="623.0" cy="716.0" r="7.5" fill="#dcb4f8" stroke="#0000ff" stroke-width="3.5"/>
<text x="648.0" y="698.9" font-family="'Liberation Sans', Arial, sans-serif" font-size="16.6" font-weight="normal" font-style="normal" fill="#000" text-anchor="start">T</text>
<text x="659.3" y="703.6" font-family="'Liberation Sans', Arial, sans-serif" font-size="10.8" font-weight="normal" font-style="normal" fill="#000" text-anchor="start">cs</text>
<text x="674.4" y="698.9" font-family="'Liberation Sans', Arial, sans-serif" font-size="16.6" font-weight="normal" font-style="normal" fill="#000" text-anchor="start" textLength="85" lengthAdjust="spacingAndGlyphs">Left/Bruker</text>
<text x="648.0" y="721.3" font-family="'Liberation Sans', Arial, sans-serif" font-size="16.6" font-weight="normal" font-style="normal" fill="#000" text-anchor="start">T</text>
<text x="659.3" y="726.0" font-family="'Liberation Sans', Arial, sans-serif" font-size="10.8" font-weight="normal" font-style="normal" fill="#000" text-anchor="start">cs</text>
<text x="674.4" y="721.3" font-family="'Liberation Sans', Arial, sans-serif" font-size="16.6" font-weight="normal" font-style="normal" fill="#000" text-anchor="start" textLength="94.5" lengthAdjust="spacingAndGlyphs">Right/Jastec</text>
</g>
<line x1="98.5" y1="655" x2="994.2" y2="655" stroke="#ff0000" stroke-width="2.6" stroke-dasharray="6.5 4.2"/>
<rect x="102" y="640" width="148" height="38" fill="#fff" stroke="#ff5050" stroke-width="1.2"/>
<text x="107.0" y="669" font-family="'Liberation Sans', Arial, sans-serif" font-size="21" font-weight="bold" font-style="italic" fill="#ff0000" text-anchor="start" textLength="137.5" lengthAdjust="spacingAndGlyphs">5.8K criterion</text>
<g id="mlegend">
<rect x="779" y="45" width="198.4" height="314.4" fill="#fff" stroke="#555" stroke-width="1.5"/>
<text x="839.0" y="67.5" font-family="'Liberation Sans', Arial, sans-serif" font-size="23" font-weight="normal" font-style="normal" fill="#000" text-anchor="start" textLength="124" lengthAdjust="spacingAndGlyphs">TcsL Bruker</text>
<text x="839.0" y="95.9" font-family="'Liberation Sans', Arial, sans-serif" font-size="23" font-weight="normal" font-style="normal" fill="#000" text-anchor="start" textLength="125" lengthAdjust="spacingAndGlyphs">TcsR Jastec</text>
<text x="839.0" y="124.3" font-family="'Liberation Sans', Arial, sans-serif" font-size="23" font-weight="normal" font-style="normal" fill="#000" text-anchor="start" textLength="124" lengthAdjust="spacingAndGlyphs">TcsL Bruker</text>
<text x="839.0" y="152.7" font-family="'Liberation Sans', Arial, sans-serif" font-size="23" font-weight="normal" font-style="normal" fill="#000" text-anchor="start" textLength="125" lengthAdjust="spacingAndGlyphs">TcsR Jastec</text>
<text x="839.0" y="181.1" font-family="'Liberation Sans', Arial, sans-serif" font-size="23" font-weight="normal" font-style="normal" fill="#000" text-anchor="start" textLength="124" lengthAdjust="spacingAndGlyphs">TcsL Bruker</text>
<text x="839.0" y="209.5" font-family="'Liberation Sans', Arial, sans-serif" font-size="23" font-weight="normal" font-style="normal" fill="#000" text-anchor="start" textLength="125" lengthAdjust="spacingAndGlyphs">TcsR Jastec</text>
<text x="839.0" y="237.89999999999998" font-family="'Liberation Sans', Arial, sans-serif" font-size="23" font-weight="normal" font-style="normal" fill="#000" text-anchor="start" textLength="124" lengthAdjust="spacingAndGlyphs">TcsL Bruker</text>
<text x="839.0" y="266.29999999999995" font-family="'Liberation Sans', Arial, sans-serif" font-size="23" font-weight="normal" font-style="normal" fill="#000" text-anchor="start" textLength="125" lengthAdjust="spacingAndGlyphs">TcsR Jastec</text>
<text x="839.0" y="294.7" font-family="'Liberation Sans', Arial, sans-serif" font-size="23" font-weight="normal" font-style="normal" fill="#000" text-anchor="start" textLength="124" lengthAdjust="spacingAndGlyphs">TcsL Bruker</text>
<text x="839.0" y="323.1" font-family="'Liberation Sans', Arial, sans-serif" font-size="23" font-weight="normal" font-style="normal" fill="#000" text-anchor="start" textLength="125" lengthAdjust="spacingAndGlyphs">TcsR Jastec</text>
<rect x="796.8" y="50.2" width="20.5" height="20.5" fill="#ffaad4" stroke="#b8405c" stroke-width="1.5"/>
<circle cx="806.8" cy="88.5" r="11.3" fill="#80ffff" stroke="#3c48d0" stroke-width="1.5"/>
<polygon points="806.8,101.2 821.1,126.4 792.5,126.4" fill="#fbc49a" stroke="#b8405c" stroke-width="1.5" stroke-linejoin="miter"/>
<polygon points="792.4,137.2 821.4,137.2 806.9,162.8" fill="#b8c0f8" stroke="#3c48d0" stroke-width="1.5" stroke-linejoin="miter"/>
<polygon points="816.3,159.8 816.3,188.8 790.7,174.3" fill="#ffaad4" stroke="#b8405c" stroke-width="1.5" stroke-linejoin="miter"/>
<polygon points="798.5,188.1 824.1,202.6 798.5,217.1" fill="#00ffff" stroke="#3c48d0" stroke-width="1.5" stroke-linejoin="miter"/>
<polygon points="807.1,216.5 822.1,230.7 807.1,244.9 792.1,230.7" fill="#fbc49a" stroke="#b8405c" stroke-width="1.5" stroke-linejoin="miter"/>
<polygon points="806.9,246.2 820.6,256.2 815.4,272.2 798.4,272.2 793.2,256.2" fill="#b8c0f8" stroke="#3c48d0" stroke-width="1.5" stroke-linejoin="miter"/>
<rect x="797.0" y="277.5" width="18.0" height="18.0" fill="#f0ffd0" stroke="#008000" stroke-width="4.5"/>
<circle cx="806.7" cy="315.4" r="9.6" fill="#dcb4f8" stroke="#0000ff" stroke-width="4.5"/>
</g>
<g id="axes" stroke="#000" stroke-width="2.2" fill="none">
<path d="M97.5,14.5 V738.0 H995.2 V14.5 H97.5"/>
<path d="M83,738.00 H97.5 M981,738.00 H995.2 M90.5,717.33 H97.5 M988,717.33 H995.2 M90.5,696.66 H97.5 M988,696.66 H995.2 M90.5,675.99 H97.5 M988,675.99 H995.2 M90.5,655.31 H97.5 M988,655.31 H995.2 M83,634.64 H97.5 M981,634.64 H995.2 M90.5,613.97 H97.5 M988,613.97 H995.2 M90.5,593.30 H97.5 M988,593.30 H995.2 M90.5,572.63 H97.5 M988,572.63 H995.2 M90.5,551.96 H97.5 M988,551.96 H995.2 M83,531.29 H97.5 M981,531.29 H995.2 M90.5,510.61 H97.5 M988,510.61 H995.2 M90.5,489.94 H97.5 M988,489.94 H995.2 M90.5,469.27 H97.5 M988,469.27 H995.2 M90.5,448.60 H97.5 M988,448.60 H995.2 M83,427.93 H97.5 M981,427.93 H995.2 M90.5,407.26 H97.5 M988,407.26 H995.2 M90.5,386.59 H97.5 M988,386.59 H995.2 M90.5,365.91 H97.5 M988,365.91 H995.2 M90.5,345.24 H97.5 M988,345.24 H995.2 M83,324.57 H97.5 M981,324.57 H995.2 M90.5,303.90 H97.5 M988,303.90 H995.2 M90.5,283.23 H97.5 M988,283.23 H995.2 M90.5,262.56 H97.5 M988,262.56 H995.2 M90.5,241.89 H97.5 M988,241.89 H995.2 M83,221.21 H97.5 M981,221.21 H995.2 M90.5,200.54 H97.5 M988,200.54 H995.2 M90.5,179.87 H97.5 M988,179.87 H995.2 M90.5,159.20 H97.5 M988,159.20 H995.2 M90.5,138.53 H97.5 M988,138.53 H995.2 M83,117.86 H97.5 M981,117.86 H995.2 M90.5,97.19 H97.5 M988,97.19 H995.2 M90.5,76.51 H97.5 M988,76.51 H995.2 M90.5,55.84 H97.5 M988,55.84 H995.2 M90.5,35.17 H97.5 M988,35.17 H995.2 M83,14.50 H97.5 M981,14.50 H995.2 M137.00,738.0 V750.5 M137.00,14.5 V28 M269.08,738.0 V750.5 M269.08,14.5 V28 M401.17,738.0 V750.5 M401.17,14.5 V28 M533.25,738.0 V750.5 M533.25,14.5 V28 M665.33,738.0 V750.5 M665.33,14.5 V28 M797.42,738.0 V750.5 M797.42,14.5 V28 M929.50,738.0 V750.5 M929.50,14.5 V28"/>
</g>
<rect x="729.5" y="0" width="248.5" height="36" fill="#fff"/>
<text x="731.15" y="28" font-family="'Liberation Sans', Arial, sans-serif" font-size="37.5" font-weight="bold" fill="#000" textLength="99.77" lengthAdjust="spacingAndGlyphs">TFIO1</text>
<text x="846.88" y="28" font-family="'Liberation Sans', Arial, sans-serif" font-size="37.5" font-weight="bold" fill="#000" textLength="128.80" lengthAdjust="spacingAndGlyphs">sample</text>
<text x="73.5" y="747.8" font-family="'Liberation Sans', Arial, sans-serif" font-size="30.5" font-weight="normal" font-style="normal" fill="#000" text-anchor="end">5</text>
<text x="73.5" y="644.4428571428571" font-family="'Liberation Sans', Arial, sans-serif" font-size="30.5" font-weight="normal" font-style="normal" fill="#000" text-anchor="end">6</text>
<text x="73.5" y="541.0857142857143" font-family="'Liberation Sans', Arial, sans-serif" font-size="30.5" font-weight="normal" font-style="normal" fill="#000" text-anchor="end">7</text>
<text x="73.5" y="437.72857142857146" font-family="'Liberation Sans', Arial, sans-serif" font-size="30.5" font-weight="normal" font-style="normal" fill="#000" text-anchor="end">8</text>
<text x="73.5" y="334.37142857142857" font-family="'Liberation Sans', Arial, sans-serif" font-size="30.5" font-weight="normal" font-style="normal" fill="#000" text-anchor="end">9</text>
<text x="73.5" y="231.01428571428573" font-family="'Liberation Sans', Arial, sans-serif" font-size="30.5" font-weight="normal" font-style="normal" fill="#000" text-anchor="end">10</text>
<text x="73.5" y="127.65714285714286" font-family="'Liberation Sans', Arial, sans-serif" font-size="30.5" font-weight="normal" font-style="normal" fill="#000" text-anchor="end">11</text>
<text x="73.5" y="24.3" font-family="'Liberation Sans', Arial, sans-serif" font-size="30.5" font-weight="normal" font-style="normal" fill="#000" text-anchor="end">12</text>
<text x="137.0" y="785" font-family="'Liberation Sans', Arial, sans-serif" font-size="30.5" font-weight="normal" font-style="normal" fill="#000" text-anchor="middle">0</text>
<text x="269.08333333333337" y="785" font-family="'Liberation Sans', Arial, sans-serif" font-size="30.5" font-weight="normal" font-style="normal" fill="#000" text-anchor="middle">100</text>
<text x="401.1666666666667" y="785" font-family="'Liberation Sans', Arial, sans-serif" font-size="30.5" font-weight="normal" font-style="normal" fill="#000" text-anchor="middle">200</text>
<text x="533.25" y="785" font-family="'Liberation Sans', Arial, sans-serif" font-size="30.5" font-weight="normal" font-style="normal" fill="#000" text-anchor="middle">300</text>
<text x="665.3333333333334" y="785" font-family="'Liberation Sans', Arial, sans-serif" font-size="30.5" font-weight="normal" font-style="normal" fill="#000" text-anchor="middle">400</text>
<text x="797.4166666666666" y="785" font-family="'Liberation Sans', Arial, sans-serif" font-size="30.5" font-weight="normal" font-style="normal" fill="#000" text-anchor="middle">500</text>
<text x="929.5" y="785" font-family="'Liberation Sans', Arial, sans-serif" font-size="30.5" font-weight="normal" font-style="normal" fill="#000" text-anchor="middle">600</text>
<text x="367.14" y="822.5" font-family="'Liberation Sans', Arial, sans-serif" font-size="36" font-weight="normal" fill="#000" textLength="93.21" lengthAdjust="spacingAndGlyphs">Cycle</text>
<text x="473.00" y="822.5" font-family="'Liberation Sans', Arial, sans-serif" font-size="36" font-weight="normal" fill="#000" textLength="19.86" lengthAdjust="spacingAndGlyphs">#</text>
<text x="502.50" y="822.5" font-family="'Liberation Sans', Arial, sans-serif" font-size="36" font-weight="normal" fill="#000" textLength="62.61" lengthAdjust="spacingAndGlyphs">and</text>
<text x="579.00" y="822.5" font-family="'Liberation Sans', Arial, sans-serif" font-size="36" font-weight="normal" fill="#000" textLength="113.54" lengthAdjust="spacingAndGlyphs">WUCD</text>
<text x="705.00" y="822.5" font-family="'Liberation Sans', Arial, sans-serif" font-size="36" font-weight="normal" fill="#000" textLength="19.86" lengthAdjust="spacingAndGlyphs">#</text>
<text transform="translate(31,649.70) rotate(-90)" x="-1.88" y="0" font-family="'Liberation Sans', Arial, sans-serif" font-size="38.5" font-weight="normal" fill="#000" textLength="125.60" lengthAdjust="spacingAndGlyphs">Current</text>
<text transform="translate(31,509.70) rotate(-90)" x="-1.44" y="0" font-family="'Liberation Sans', Arial, sans-serif" font-size="38.5" font-weight="normal" fill="#000" textLength="124.37" lengthAdjust="spacingAndGlyphs">Sharing</text>
<text transform="translate(31,374.40) rotate(-90)" x="-0.77" y="0" font-family="'Liberation Sans', Arial, sans-serif" font-size="38.5" font-weight="normal" fill="#000" textLength="216.06" lengthAdjust="spacingAndGlyphs">Temperature</text>
<text transform="translate(31,147.90) rotate(-90)" x="-2.31" y="0" font-family="'Liberation Sans', Arial, sans-serif" font-size="38.5" font-weight="normal" fill="#000" textLength="51.35" lengthAdjust="spacingAndGlyphs">(K)</text></svg>
</body></html>
